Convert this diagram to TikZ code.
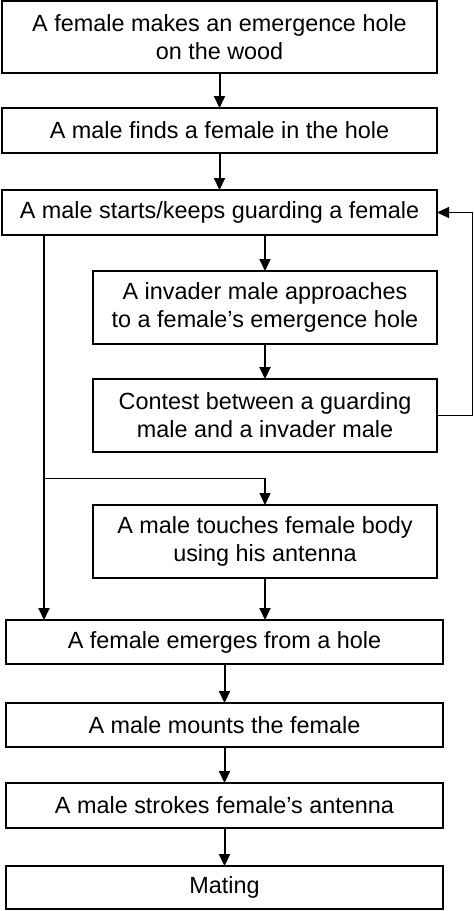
\documentclass[tikz,border=0pt]{standalone}
\usepackage{fontspec}
\setmainfont{Liberation Sans}
\usetikzlibrary{arrows.meta,positioning,calc}
\tikzset{
  stage/.style={draw=black, line width=0.9pt, align=center, inner sep=2pt, outer sep=0pt,
    font=\fontsize{11.7}{14}\selectfont},
  wide/.style={stage, minimum width=217.5pt},
  narrow/.style={stage, minimum width=172pt, minimum height=36.5pt},
  flow/.style={-{Triangle[length=6pt, width=5.5pt]}, line width=1pt},
}

\begin{document}
\begin{tikzpicture}
      \useasboundingbox (0,0) rectangle (237pt,-455.5pt);
      \node[wide, minimum height=36pt, anchor=north west] (hole) at (1pt,-0.5pt)
        {A female makes an emergence hole\\on the wood};
      \node[wide, minimum height=22.5pt, below=17.5pt of hole] (finds) {A male finds a female in the hole};
      \node[wide, minimum height=22.5pt, below=18.5pt of finds] (guard) {A male starts/keeps guarding a female};
      \node[narrow, below left=18pt and 0pt of guard.south east] (invader)
        {A invader male approaches\\to a female’s emergence hole};
      \node[narrow, below=17.5pt of invader] (contest) {Contest between a guarding\\male and a invader male};
      \node[narrow, below=26.5pt of contest] (touch) {A male touches female body\\using his antenna};
      \node[wide, minimum width=218.5pt, minimum height=22pt, below left=21pt and 0pt of touch.south east, xshift=3pt] (emerge)
        {A female emerges from a hole};
      \node[wide, minimum width=218.5pt, minimum height=22pt, below=19.5pt of emerge] (mount) {A male mounts the female};
      \node[wide, minimum width=218.5pt, minimum height=22.5pt, below=18pt of mount] (strokes) {A male strokes female’s antenna};
      \node[wide, minimum width=218.5pt, minimum height=21.5pt, below=19pt of strokes] (mating) {Mating};

      \coordinate[right=21pt of guard.south west] (drop);
      \coordinate (fork) at ($(contest.south)!0.5!(touch.north)$);
      \coordinate[right=17.5pt of contest.east] (back);

      \draw[flow] (hole) -- (finds);
      \draw[flow] (finds) -- (guard);
      \draw[flow] (guard.south -| invader.north) -- (invader);
      \draw[flow] (invader) -- (contest);
      \draw[flow] (drop) -- (drop |- emerge.north);
      \draw[flow, line width=0.7pt] (drop |- fork) -| (touch.north);
      \draw[flow] (touch.south) -- (touch.south |- emerge.north);
      \draw[flow, line width=0.5pt] (contest.east) -- (back) |- (guard.east);
      \draw[flow] (emerge) -- (mount);
      \draw[flow] (mount) -- (strokes);
      \draw[flow] (strokes) -- (mating);
    \end{tikzpicture}
\end{document}
